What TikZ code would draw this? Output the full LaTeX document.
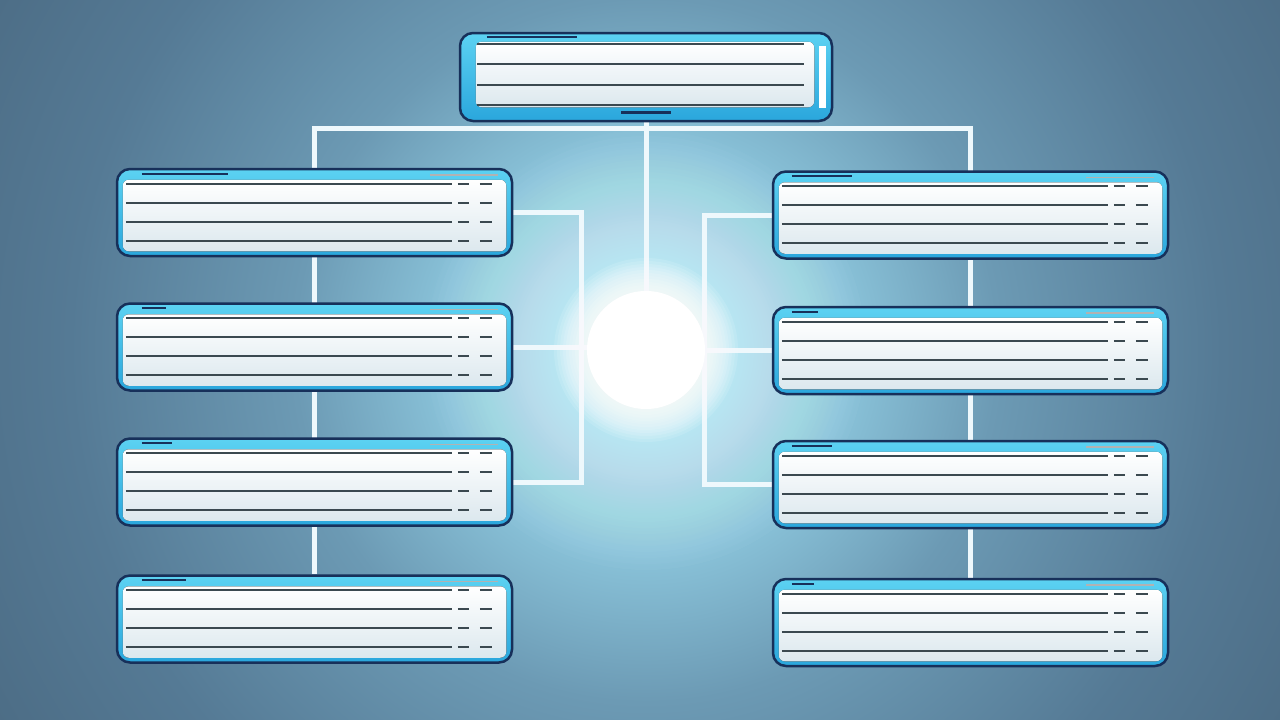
\documentclass[tikz,border=0pt]{standalone}
\usetikzlibrary{calc,backgrounds}
\definecolor{navyedge}{HTML}{17305A}
\definecolor{cyanglow}{HTML}{5CD2F2}
\definecolor{cyandeep}{HTML}{2AA6DC}
\definecolor{panelbot}{HTML}{DCE8EE}
\definecolor{rowgray}{HTML}{3B4950}
\definecolor{wirewhite}{HTML}{EEF8FC}
\definecolor{halo}{HTML}{D6F6FC}
\definecolor{bgcore}{HTML}{E8FAFE}
\definecolor{bglight}{HTML}{B2E4F1}
\definecolor{bgsoft}{HTML}{8CC6DC}
\definecolor{bgmid}{HTML}{6C9AB4}
\definecolor{bgdim}{HTML}{557A95}
\definecolor{bgedge}{HTML}{4A6981}
\pgfdeclareradialshading{bgglow}{\pgfpoint{0bp}{0bp}}{color(0bp)=(bgcore); color(3bp)=(bglight); color(6bp)=(bgsoft); color(11bp)=(bgmid); color(18bp)=(bgdim); color(25bp)=(bgedge); color(50bp)=(bgedge)}
\begin{document}
\begin{tikzpicture}[x=1pt,y=-1pt,
  infobox/.style={draw=navyedge, line width=2.5pt, rounded corners=13pt, top color=cyanglow, bottom color=cyandeep, minimum width=395pt, minimum height=87pt, inner sep=0pt},
  panelfill/.style={top color=white, bottom color=panelbot, rounded corners=6pt},
  rowline/.style={rowgray, line width=1.6pt},
  labelbar/.style={navyedge, line width=1.8pt},
  bandbar/.style={gray!60, line width=1.5pt},
  wire/.style={wirewhite, line width=5pt}]
\useasboundingbox (0,0) rectangle (1280,720);

% top box and hub
\node[infobox, minimum width=372pt, minimum height=88pt] (top) at (646,77) {};
\node[circle, fill=white, minimum size=118pt, inner sep=0pt] (hub) at (646,350) {};

% side boxes
\node[infobox] (L1) at (314.5,212.5) {};
\node[infobox] (L2) at (314.5,347) {};
\node[infobox] (L3) at (314.5,482) {};
\node[infobox] (L4) at (314.5,619) {};
\node[infobox] (R1) at (970.5,215) {};
\node[infobox] (R2) at (970.5,350.5) {};
\node[infobox] (R3) at (970.5,484.5) {};
\node[infobox] (R4) at (970.5,622.5) {};

% inside of the top box
\fill[panelfill] ($(top.north west)+(17,10)$) rectangle ($(top.south east)+(-19,-15)$);
\draw[labelbar] ($(top.north west)+(28,5)$) -- +(90,0);
\draw[labelbar, line width=2.5pt] ($(top.south)+(-25,-10)$) -- +(50,0);
\fill[white] ($(top.north west)+(360,14)$) rectangle +(7,62);
\foreach \ly in {12,32,53,73}
  \draw[rowline] ($(top.north west)+(18,\ly)$) -- +(327,0);

% inside of the side boxes
\foreach \nm/\tl/\tx in {L1/86/26, L2/24/26, L3/30/26, L4/44/26, R1/60/20, R2/26/20, R3/40/20, R4/22/20} {
  \fill[panelfill] ($(\nm.north west)+(7,12)$) rectangle ($(\nm.south east)+(-7,-6)$);
  \draw[labelbar] ($(\nm.north west)+(\tx,6)$) -- +(\tl,0);
  \draw[bandbar] ($(\nm.north west)+(314,7)$) -- +(68,0);
  \foreach \ly in {16,35,54,73} {
    \draw[rowline] ($(\nm.north west)+(10,\ly)$) -- +(326,0);
    \draw[rowline] ($(\nm.north west)+(342,\ly)$) -- +(11,0);
    \draw[rowline] ($(\nm.north west)+(364,\ly)$) -- +(12,0);
  }
}

\begin{scope}[on background layer]
  \clip (0,0) rectangle (1280,720);
  \shade[shading=bgglow] (-154,-450) rectangle (1446,1150);
  \foreach \r in {220,214,...,70}
    \fill[halo, opacity=0.03] (hub.center) circle (\r);
  \coordinate (bus) at (646,128);
  \draw[wire] (L4.north) -- (L1.north |- bus) -- (R1.north |- bus) -- (R4.north);
  \draw[wire] (top.south) -- (hub.north);
  \draw[wire] (L1.east) -- ++(68,0) |- (L3.east);
  \draw[wire] (L2.east) -- (L2.east -| hub.west);
  \draw[wire] (R1.west) -- ++(-67,0) |- (R3.west);
  \draw[wire] (R2.west) -- (R2.west -| hub.east);
  \foreach \r in {92,89,...,59}
    \fill[white, opacity=0.12] (hub.center) circle (\r);
\end{scope}
\end{tikzpicture}
\end{document}
